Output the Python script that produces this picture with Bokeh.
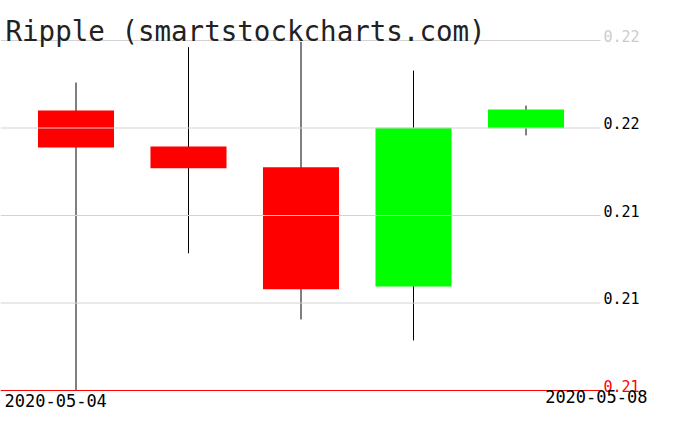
from bokeh.plotting import figure
from bokeh.models import Range1d, Label
from bokeh.embed import file_html
from bokeh.resources import INLINE

# ---- data ----
dates = ["2020-05-04", "2020-05-05", "2020-05-06", "2020-05-07", "2020-05-08"]
opens = [0.21800, 0.21697, 0.21638, 0.21297, 0.21749]
highs = [0.21880, 0.21981, 0.21996, 0.21914, 0.21814]
lows = [0.21000, 0.21392, 0.21203, 0.21143, 0.21729]
closes = [0.21694, 0.21635, 0.21289, 0.21751, 0.21803]
y_ticks = [0.21, 0.2125, 0.215, 0.2175, 0.22]
y_tick_labels = ["0.21", "0.21", "0.21", "0.22", "0.22"]
title_text = "Ripple (smartstockcharts.com)"

idx = list(range(len(dates)))
tops = [max(o, c) for o, c in zip(opens, closes)]
bottoms = [min(o, c) for o, c in zip(opens, closes)]
colors = ["#00ff00" if c >= o else "#ff0000" for o, c in zip(opens, closes)]

# plot geometry (pixels -> data)
PX_PER_CANDLE = 112.5
PX_PER_UNIT = 35000.0
W, H = 660, 415
X0_PX, Y0_PX = 75.5, 390.0          # pixel position of candle 0 / of the lowest tick
XR_START = -X0_PX / PX_PER_CANDLE
XR_END = (W - X0_PX) / PX_PER_CANDLE
GRID_END = (600 - X0_PX) / PX_PER_CANDLE
YR_START = y_ticks[0] - (H - Y0_PX) / PX_PER_UNIT
YR_END = y_ticks[0] + Y0_PX / PX_PER_UNIT

p = figure(width=W, height=H, output_backend="svg", toolbar_location=None,
           x_axis_type=None, y_axis_type=None,
           x_range=Range1d(XR_START, XR_END), y_range=Range1d(YR_START, YR_END),
           min_border_left=0, min_border_right=0, min_border_top=0, min_border_bottom=0)
p.outline_line_color = None
p.background_fill_color = "white"
p.border_fill_color = "white"

# wicks and bodies
p.segment(x0=idx, y0=lows, x1=idx, y1=highs, line_color="black", line_width=1)
p.vbar(x=idx, width=0.676, top=tops, bottom=bottoms, fill_color=colors, line_color=None)

# horizontal grid lines drawn over the candles
line_colors = ["#ff0000", "#d3d3d3", "#d3d3d3", "#d3d3d3", "#d3d3d3"]
p.segment(x0=[XR_START] * len(y_ticks), y0=y_ticks, x1=[GRID_END] * len(y_ticks), y1=y_ticks,
          line_color=line_colors, line_width=1)

# y labels on the right (sitting just above their lines)
label_colors = ["#ff0000", "black", "black", "black", "#cccccc"]
for t, lab, col in zip(y_ticks, y_tick_labels, label_colors):
    p.add_layout(Label(x=GRID_END, y=t, text=lab, x_offset=3, y_offset=5,
                       text_font="DejaVu Sans Mono", text_font_size="15px",
                       text_color=col, text_baseline="middle", text_align="left"))

# date labels
p.add_layout(Label(x=XR_START, y=y_ticks[0], text=dates[0], x_offset=4, y_offset=-10,
                   text_font="DejaVu Sans Mono", text_font_size="17px",
                   text_color="black", text_baseline="middle", text_align="left"))
p.add_layout(Label(x=GRID_END, y=y_ticks[0], text=dates[-1], x_offset=47, y_offset=-6,
                   text_font="DejaVu Sans Mono", text_font_size="17px",
                   text_color="black", text_baseline="middle", text_align="right"))

# title
p.add_layout(Label(x=XR_START, y=y_ticks[-1], text=title_text, x_offset=5, y_offset=10,
                   text_font="DejaVu Sans Mono", text_font_size="27.5px",
                   text_color="#222222", text_baseline="middle", text_align="left"))

open("out.html", "w").write(file_html(p, INLINE))
